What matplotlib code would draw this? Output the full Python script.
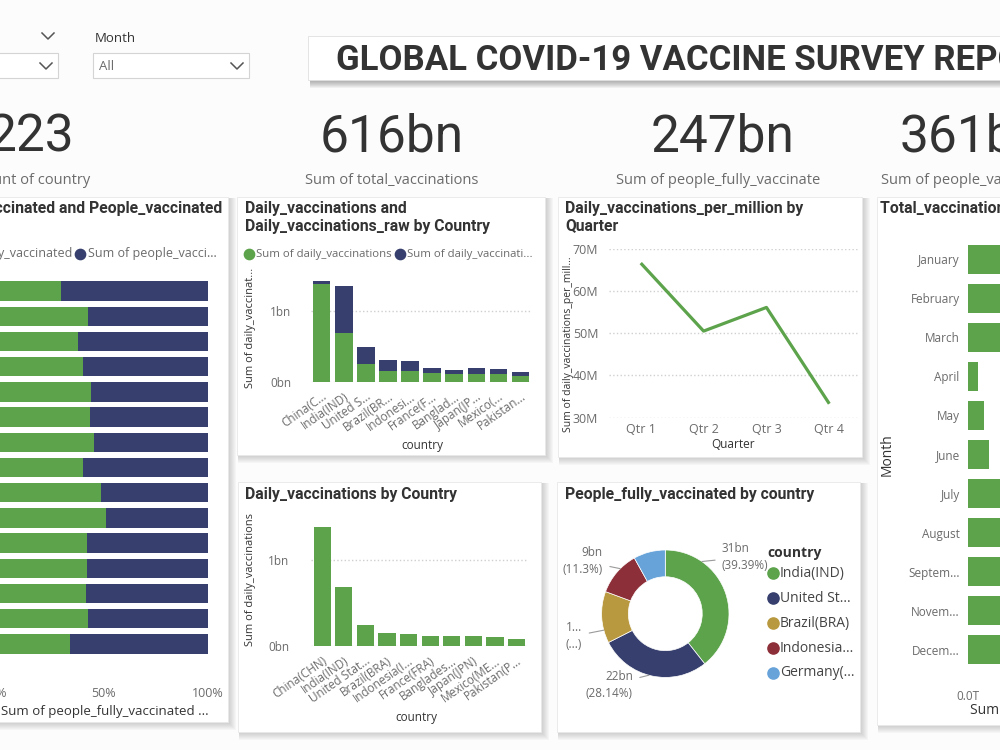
import matplotlib.pyplot as plt
import numpy as np
from matplotlib.patches import Rectangle

plt.rcParams['font.family'] = ['Open Sans', 'DejaVu Sans']

# ---- data ----
kpi_values = ['223', '616bn', '247bn', '361bn']
kpi_labels = ['Count of country', 'Sum of total_vaccinations',
              'Sum of people_fully_vaccinate', 'Sum of people_vaccinated']

# share of people_fully_vaccinated in the 100% stacked bar (15 countries)
fully_share = [30.0, 42.9, 38.1, 40.5, 44.3, 43.8, 45.7, 40.5,
               49.0, 51.4, 42.4, 42.4, 41.9, 42.9, 34.3]

short_countries = ['China(C...', 'India(IND)', 'United S...', 'Brazil(BR...', 'Indonesi...',
                   'France(F...', 'Banglad...', 'Japan(JP...', 'Mexico(...', 'Pakistan...']
long_countries = ['China(CHN)', 'India(IND)', 'United Stat...', 'Brazil(BRA)', 'Indonesia(I...',
                  'France(FRA)', 'Banglades...', 'Japan(JPN)', 'Mexico(ME...', 'Pakistan(P...']
daily_vacc = [1.38, 0.69, 0.247, 0.151, 0.145, 0.117, 0.114, 0.112, 0.108, 0.087]  # bn
daily_raw = [0.04, 0.66, 0.246, 0.16, 0.142, 0.08, 0.055, 0.08, 0.077, 0.05]      # bn

quarters = ['Qtr 1', 'Qtr 2', 'Qtr 3', 'Qtr 4']
per_million = [66.6, 50.5, 56.1, 33.3]  # M

donut_countries = ['India(IND)', 'United St...', 'Brazil(BRA)', 'Indonesia...', 'Germany(...']
donut_values = [31.0, 22.15, 10.31, 8.89, 6.35]  # bn
donut_labels = ['31bn\n(39.39%)', '22bn\n(28.14%)', '1...\n(...)', '9bn\n(11.3%)', '']

months = ['January', 'February', 'March', 'April', 'May', 'June', 'July',
          'August', 'Septem...', 'Novem...', 'Decem...']
month_totals = [70, 74, 78, 8, 13, 17, 72, 73, 71, 70, 70]  # bn

green = '#5ca34b'
navy = '#363f6d'
donut_colors = [green, navy, '#b9993f', '#8d2f38', '#67a3d9']
dark = '#333333'
grey = '#6b6b6b'
title_size = 11.3

W, H = 1000, 750
fig = plt.figure(figsize=(10, 7.5), dpi=100)
fig.patch.set_facecolor('#fcfcfc')


def box(x, y, w, h):
    return [x / W, 1 - (y + h) / H, w / W, h / H]


bg = fig.add_axes([0, 0, 1, 1], zorder=0)
bg.set_xlim(0, W)
bg.set_ylim(H, 0)
bg.axis('off')


def card(x0, y0, x1, y1):
    for k in range(7, 0, -1):
        bg.add_patch(Rectangle((x0 + 1, y0 + 1), x1 - x0 + k, y1 - y0 + k,
                               fc='#808080', ec='none', alpha=0.05))
    bg.add_patch(Rectangle((x0, y0), x1 - x0, y1 - y0, fc='white', ec='#e8e8e8', lw=0.6))


def chevron(x, y):
    bg.plot([x - 6, x, x + 6], [y - 3, y + 3, y - 3], color='#555555', lw=1.1)


def title(x, y, text, **kw):
    bg.text(x, y, text, family='Roboto', fontsize=title_size, weight='bold',
            color=dark, va='center', **kw)


def style(ax):
    ax.set_facecolor('none')
    for s in ax.spines.values():
        s.set_visible(False)
    ax.tick_params(length=0, colors=grey, labelsize=8.5)


# ---- slicers ----
chevron(48, 36)
bg.add_patch(Rectangle((-5, 53), 63, 25, fc='white', ec='#d4d4d4', lw=0.8))
chevron(46, 66)
bg.text(95, 38, 'Month', fontsize=9.5, color=dark, va='center')
bg.add_patch(Rectangle((93, 53), 156, 25, fc='white', ec='#d4d4d4', lw=0.8))
bg.text(99, 67, 'All', fontsize=9.5, color=grey, va='center')
chevron(237, 66)

# ---- banner ----
for k in range(8, 0, -1):
    bg.add_patch(Rectangle((310, 40), 700, 40 + k, fc='#555555', ec='none', alpha=0.07))
bg.add_patch(Rectangle((308, 36), 700, 44, fc='white', ec='#e0e0e0', lw=0.6))
bg.text(336, 61, 'GLOBAL COVID-19 VACCINE SURVEY REPORT', family='Roboto',
        fontsize=25, weight='bold', color=dark, va='center')

# ---- KPI cards ----
for cx, lx, v, lab in zip([31, 392, 723, 972], [33, 392, 718, 970], kpi_values, kpi_labels):
    bg.text(cx, 137, v, family='Roboto', fontsize=37, color=dark, ha='center', va='center')
    bg.text(lx, 181, lab, fontsize=10.5, color=grey, ha='center', va='center')

# ---- cards ----
card(-10, 197, 228, 722)
card(237, 197, 545, 455)
card(558, 197, 862, 457)
card(238, 482, 541, 732)
card(557, 482, 860, 732)
card(877, 197, 1010, 725)

# ---- left: 100% stacked bar ----
title(222, 208, 'People_fully_vaccinated and People_vaccinated', ha='right')
bg.text(72, 254, 'Sum of people_fully_vaccinated', fontsize=9, color=grey, ha='right', va='center')
bg.scatter([80], [254], s=55, color=navy)
bg.text(88, 254, 'Sum of people_vacci...', fontsize=9, color=grey, va='center')

ax1 = fig.add_axes(box(-2, 278.5, 210, 378))
rows = np.arange(len(fully_share))
share = np.array(fully_share)
ax1.barh(rows, share, height=0.77, color=green)
ax1.barh(rows, 100 - share, left=share, height=0.77, color=navy)
ax1.set_xlim(0, 100)
ax1.set_ylim(len(rows) - 0.5, -0.5)
ax1.set_yticks([])
ax1.set_xticks([0, 50, 100], ['0%', '50%', '100%'])
style(ax1)
ax1.tick_params(axis='x', pad=22, labelsize=9)
bg.text(1, 711, 'Sum of people_fully_vaccinated ...', fontsize=9.5, color=dark, va='center')

# ---- stacked column: daily vaccinations and raw ----
title(245, 208, 'Daily_vaccinations and')
title(245, 226, 'Daily_vaccinations_raw by Country')
bg.scatter([249], [254], s=55, color=green)
bg.text(256, 254, 'Sum of daily_vaccinations', fontsize=8.2, color=grey, va='center')
bg.scatter([400], [254], s=55, color=navy)
bg.text(407, 254, 'Sum of daily_vaccinati...', fontsize=8.2, color=grey, va='center')

ax2 = fig.add_axes(box(310.6, 275.2, 221, 106.5))
xs = np.arange(len(daily_vacc))
ax2.bar(xs, daily_vacc, width=0.8, color=green)
ax2.bar(xs, daily_raw, bottom=daily_vacc, width=0.8, color=navy)
ax2.set_xlim(-0.5, len(xs) - 0.5)
ax2.set_ylim(0, 1.5)
ax2.set_yticks([0, 1], ['0bn', '1bn'])
ax2.set_xticks(xs, short_countries, rotation=35, ha='right', rotation_mode='anchor')
style(ax2)
ax2.tick_params(axis='y', pad=14)
ax2.tick_params(axis='x', pad=6)
ax2.yaxis.grid(True, ls=':', color='#cfcfcf', lw=1)
ax2.set_axisbelow(True)
bg.text(250, 328, 'Sum of daily_vaccinat...', fontsize=8, color=dark, rotation=90,
        ha='center', va='center')
bg.text(422, 445, 'country', fontsize=8.5, color=dark, ha='center', va='center')

# ---- line: per million by quarter ----
title(565, 208, 'Daily_vaccinations_per_million by')
title(565, 226, 'Quarter')
ax3 = fig.add_axes(box(609.3, 248.7, 248.3, 169))
qx = np.arange(len(quarters))
ax3.plot(qx, per_million, color=green, lw=2.3, solid_capstyle='butt', clip_on=False)
ax3.set_xlim(-0.5, 3.45)
ax3.set_ylim(30, 70)
ax3.set_yticks([30, 40, 50, 60, 70], ['30M', '40M', '50M', '60M', '70M'])
ax3.set_xticks(qx, quarters)
style(ax3)
ax3.tick_params(axis='y', pad=8, labelsize=9)
ax3.tick_params(axis='x', pad=4, labelsize=9)
ax3.yaxis.grid(True, ls=':', color='#d0d0d0', lw=1)
ax3.set_axisbelow(True)
bg.text(569, 344, 'Sum of daily_vaccinations_per_mill...', fontsize=7.5, color=dark,
        rotation=90, ha='center', va='center')
bg.text(733, 444, 'Quarter', fontsize=8.5, color=dark, ha='center', va='center')

# ---- column: daily vaccinations by country ----
title(245, 494, 'Daily_vaccinations by Country')
ax4 = fig.add_axes(box(311.4, 517, 216, 129))
ax4.bar(xs, daily_vacc, width=0.8, color=green)
ax4.set_xlim(-0.5, len(xs) - 0.5)
ax4.set_ylim(0, 1.5)
ax4.set_yticks([0, 1], ['0bn', '1bn'])
ax4.set_xticks(xs, long_countries, rotation=35, ha='right', rotation_mode='anchor')
style(ax4)
ax4.tick_params(axis='y', pad=16)
ax4.tick_params(axis='x', pad=6)
ax4.yaxis.grid(True, ls=':', color='#cfcfcf', lw=1)
ax4.set_axisbelow(True)
bg.text(250, 580, 'Sum of daily_vaccinations', fontsize=8, color=dark, rotation=90,
        ha='center', va='center')
bg.text(416, 717, 'country', fontsize=8.5, color=dark, ha='center', va='center')

# ---- donut ----
title(565, 494, 'People_fully_vaccinated by country')
cx, cy, r = 665.3, 613.7, 63.7
ax5 = fig.add_axes(box(cx - r, cy - r, 2 * r, 2 * r))
wedges, _ = ax5.pie(donut_values, colors=donut_colors, startangle=90, counterclock=False,
                    radius=1, wedgeprops=dict(width=0.42, edgecolor='white', linewidth=0.5))
ax5.set_xlim(-1, 1)
ax5.set_ylim(-1, 1)
# label position (figure px), alignment, and rim angle for the leader line
label_pos = [(722, 557, 'left', 55), (633, 685, 'right', -105),
             (566, 636, 'left', -165), (603, 561, 'right', 135)]
for lab, (tx, ty, ha, ang) in zip(donut_labels, label_pos):
    a = np.deg2rad(ang)
    ax5.annotate(lab, xy=(np.cos(a), np.sin(a)), xycoords='data',
                 xytext=(tx, H - ty), textcoords='figure pixels', ha=ha, va='center',
                 fontsize=8.5, color=grey, linespacing=1.35,
                 arrowprops=dict(arrowstyle='-', color='#9a9a9a', lw=0.8, shrinkA=3, shrinkB=0))
bg.text(767, 553, 'country', fontsize=10, weight='bold', color=dark, va='center')
for i, (name, col) in enumerate(zip(donut_countries, donut_colors)):
    yy = 573 + i * 25
    bg.scatter([773], [yy], s=65, color=col)
    bg.text(780, yy, name, fontsize=10, color='#444444', va='center')

# ---- right: total vaccinations by month ----
title(880, 208, 'Total_vaccinations by Month')
ax6 = fig.add_axes(box(968, 239.5, 125, 430))
mrows = np.arange(len(months))
ax6.barh(mrows, month_totals, height=0.74, color=green)
ax6.set_xlim(0, 100)
ax6.set_ylim(len(months) - 0.5, -0.5)
ax6.set_yticks(mrows, months)
ax6.set_xticks([0], ['0.0T'])
style(ax6)
ax6.tick_params(axis='y', pad=6, labelsize=8.5)
ax6.tick_params(axis='x', pad=15, labelsize=8.5)
bg.text(887, 455, 'Month', fontsize=10, color=dark, rotation=90, ha='center', va='center')
bg.text(970, 711, 'Sum of total_vaccinations', fontsize=10, color=dark, va='center')

fig.savefig('out.png', dpi=100, facecolor=fig.get_facecolor())
